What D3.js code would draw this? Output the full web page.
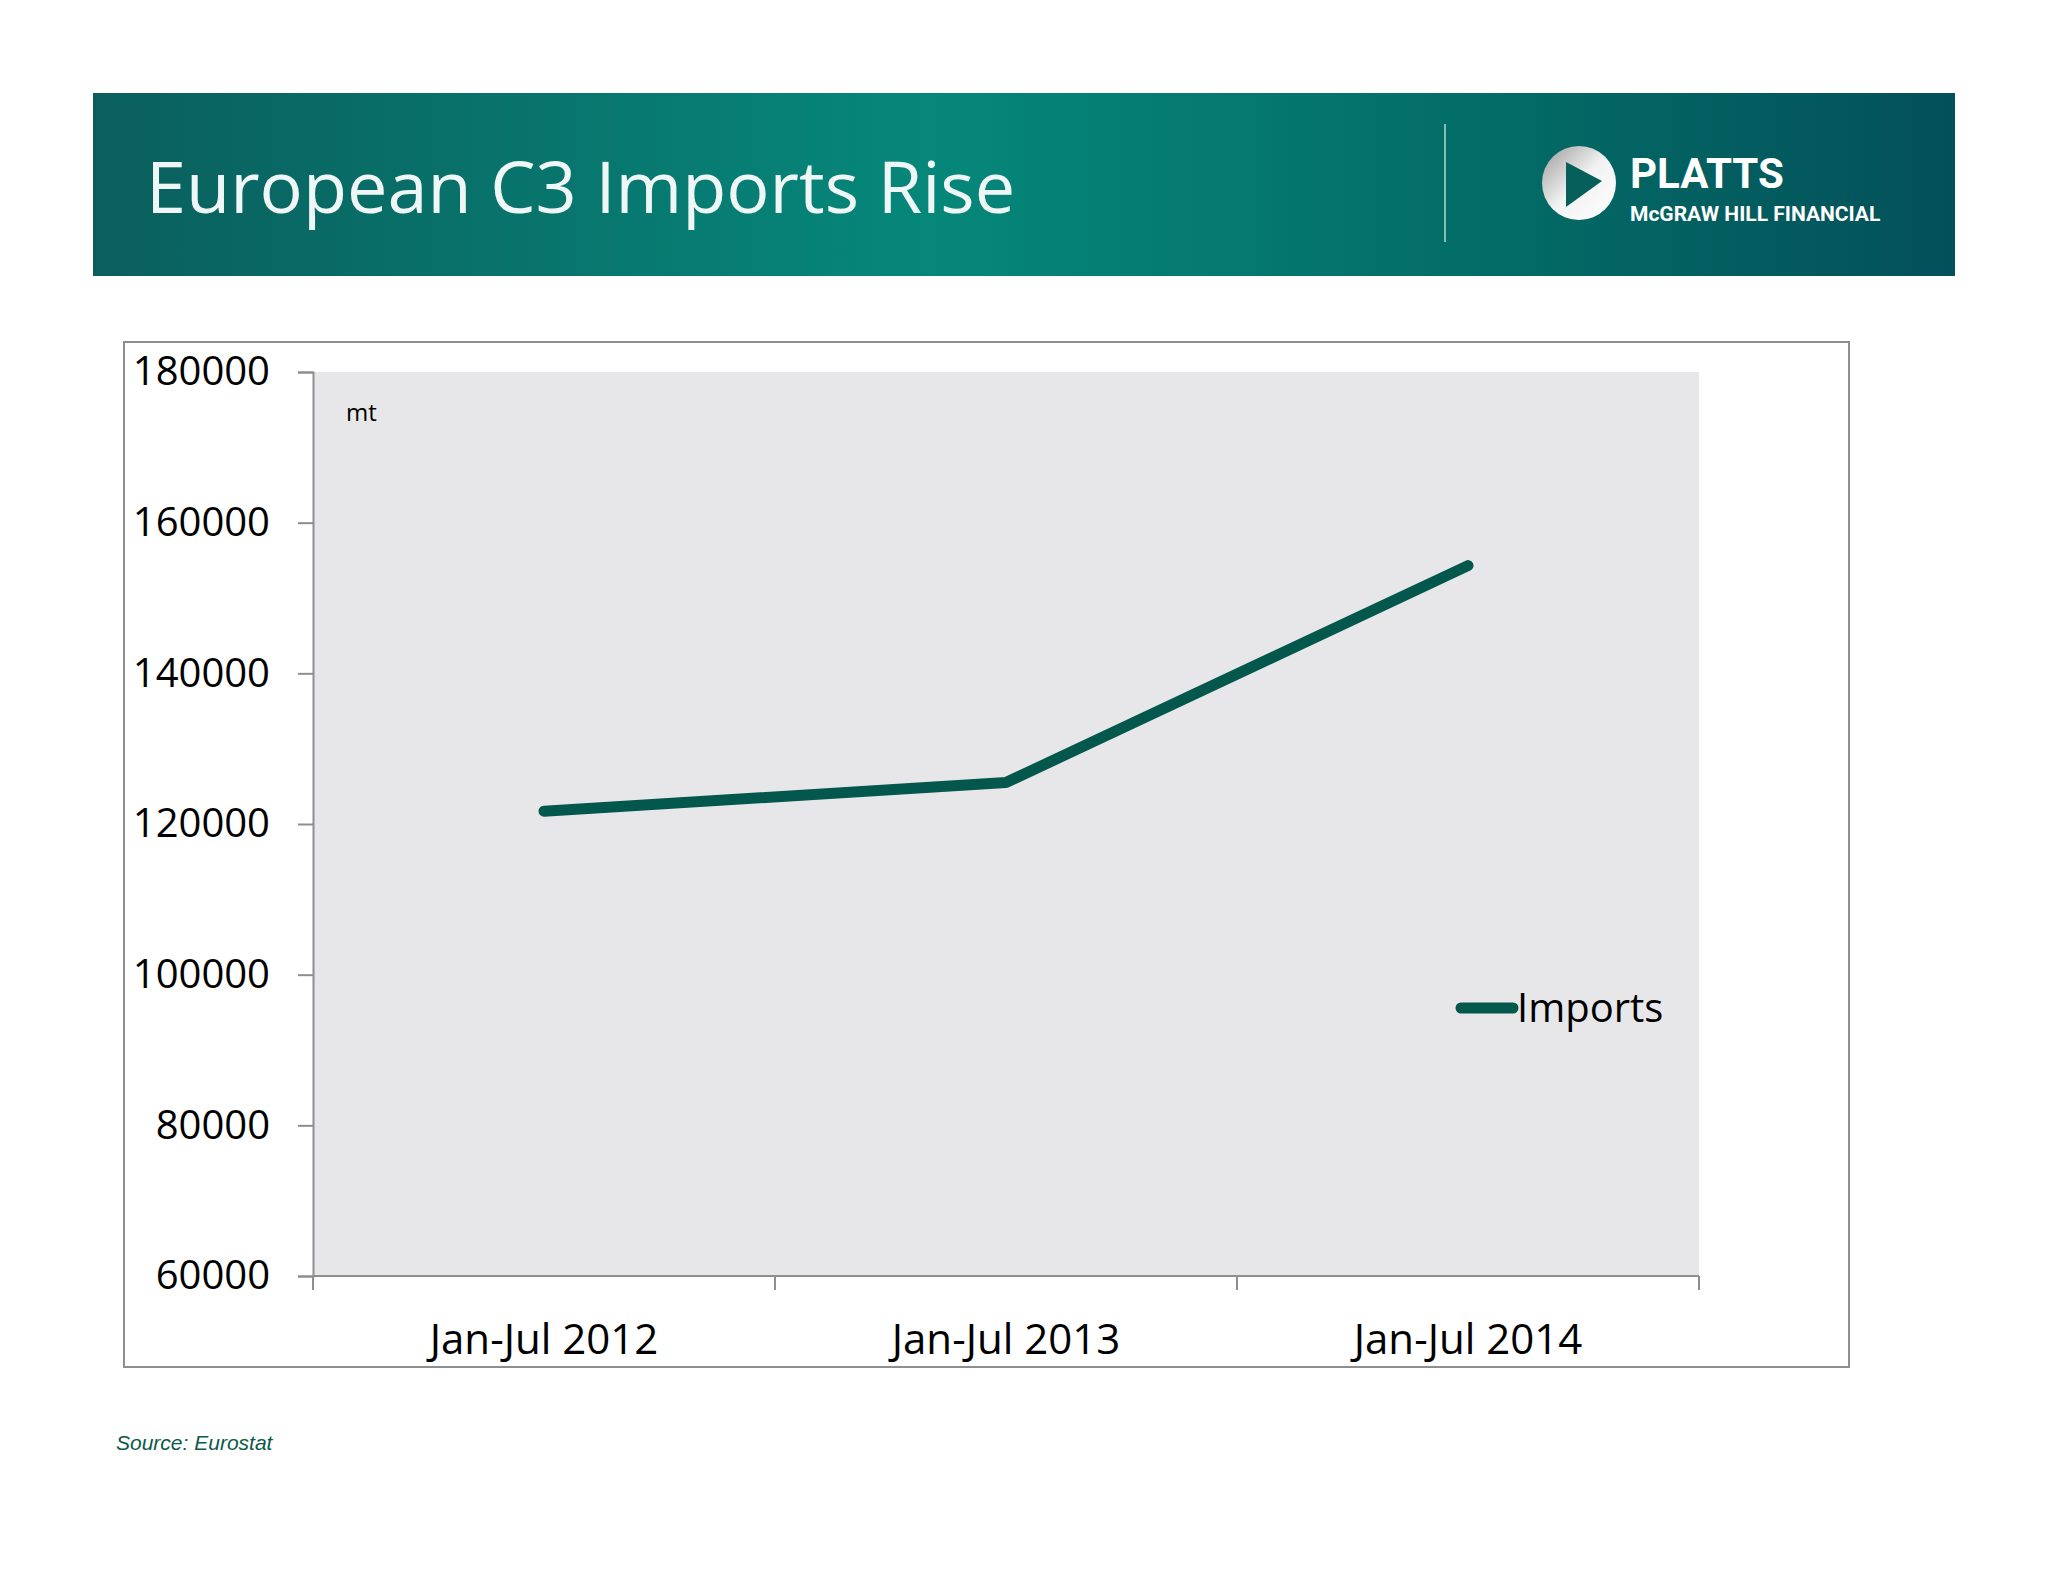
<!DOCTYPE html>
<html>
<head>
<meta charset="utf-8">
<script src="https://cdn.jsdelivr.net/npm/d3@7"></script>
<style>
  html, body { margin: 0; padding: 0; background: #ffffff; }
  svg { display: block; }
</style>
</head>
<body>
<div id="container"></div>
<script>
// chart values
const periods = ["Jan-Jul 2012", "Jan-Jul 2013", "Jan-Jul 2014"];
const imports = [121700, 125500, 154300];
const yTicks = [60000, 80000, 100000, 120000, 140000, 160000, 180000];
const seriesName = "Imports";
const unitLabel = "mt";
const title = "European C3 Imports Rise";
const source = "Source: Eurostat";

const width = 2048;
const height = 1582;
const lineColor = "#03574c";
const axisColor = "#8e8e8e";
const font = "'Open Sans', sans-serif";

// plot frame
const plot = { left: 313, top: 372, right: 1699, bottom: 1276 };

const svg = d3.select("#container")
  .append("svg")
  .attr("width", width)
  .attr("height", height);

// header band with gradient
const defs = svg.append("defs");
const grad = defs.append("linearGradient").attr("id", "band");
grad.append("stop").attr("offset", "0%").attr("stop-color", "#0a5f5d");
grad.append("stop").attr("offset", "45%").attr("stop-color", "#06877a");
grad.append("stop").attr("offset", "75%").attr("stop-color", "#036c66");
grad.append("stop").attr("offset", "100%").attr("stop-color", "#03505a");

const logoGrad = defs.append("linearGradient").attr("id", "logo")
  .attr("x1", "0%").attr("y1", "0%").attr("x2", "100%").attr("y2", "100%");
logoGrad.append("stop").attr("offset", "0%").attr("stop-color", "#9a9a9a");
logoGrad.append("stop").attr("offset", "50%").attr("stop-color", "#f2f2f2");
logoGrad.append("stop").attr("offset", "100%").attr("stop-color", "#ffffff");

svg.append("rect")
  .attr("x", 93).attr("y", 93)
  .attr("width", 1862).attr("height", 183)
  .attr("fill", "url(#band)");

svg.append("text")
  .attr("x", 146).attr("y", 213)
  .attr("font-family", font)
  .attr("font-size", 72)
  .attr("fill", "#eef7f5")
  .text(title);

svg.append("line")
  .attr("x1", 1445).attr("x2", 1445)
  .attr("y1", 124).attr("y2", 242)
  .attr("stroke", "#b8d8d2").attr("stroke-width", 1.5);

// logo
svg.append("circle")
  .attr("cx", 1579).attr("cy", 183).attr("r", 37)
  .attr("fill", "url(#logo)");
svg.append("path")
  .attr("d", "M1566,162 L1602,181 L1566,207 Z")
  .attr("fill", "#065f5a");

svg.append("text")
  .attr("x", 1630).attr("y", 188)
  .attr("font-family", "'Roboto', sans-serif")
  .attr("font-weight", 700)
  .attr("font-size", 42)
  .attr("fill", "#ffffff")
  .text("PLATTS");

svg.append("text")
  .attr("x", 1630).attr("y", 221)
  .attr("font-family", "'Roboto', sans-serif")
  .attr("font-weight", 700)
  .attr("font-size", 21)
  .attr("fill", "#ffffff")
  .text("McGRAW HILL FINANCIAL");

// chart border
svg.append("rect")
  .attr("x", 124).attr("y", 342)
  .attr("width", 1725).attr("height", 1025)
  .attr("fill", "#ffffff")
  .attr("stroke", axisColor)
  .attr("stroke-width", 2);

svg.append("rect")
  .attr("x", plot.left).attr("y", plot.top)
  .attr("width", plot.right - plot.left)
  .attr("height", plot.bottom - plot.top)
  .attr("fill", "#e7e7e9");

// scales
const x = d3.scaleBand()
  .domain(periods)
  .range([plot.left, plot.right])
  .paddingInner(0).paddingOuter(0);

const y = d3.scaleLinear()
  .domain([d3.min(yTicks), d3.max(yTicks)])
  .range([plot.bottom, plot.top]);

// y axis
const yAxis = svg.append("g")
  .attr("transform", `translate(${plot.left},0)`)
  .call(d3.axisLeft(y).tickValues(yTicks).tickSize(15).tickPadding(28).tickFormat(d3.format("d")));
yAxis.select(".domain").attr("stroke", axisColor).attr("stroke-width", 2);
yAxis.selectAll(".tick line").attr("stroke", axisColor).attr("stroke-width", 2);
yAxis.selectAll(".tick text")
  .attr("font-family", font)
  .attr("font-size", 40)
  .attr("fill", "#000000");

// x axis: labels at band centres, ticks on band edges
const xAxis = svg.append("g")
  .attr("transform", `translate(0,${plot.bottom})`)
  .call(d3.axisBottom(x).tickSize(0).tickPadding(48));
xAxis.select(".domain").remove();
xAxis.selectAll(".tick text")
  .attr("font-family", font)
  .attr("font-size", 42)
  .attr("fill", "#000000");

const edges = periods.map(p => x(p)).concat([x(periods[periods.length - 1]) + x.bandwidth()]);
svg.append("line")
  .attr("x1", plot.left).attr("x2", plot.right)
  .attr("y1", plot.bottom).attr("y2", plot.bottom)
  .attr("stroke", axisColor).attr("stroke-width", 2);
svg.selectAll(".xedge")
  .data(edges)
  .enter()
  .append("line")
  .attr("class", "xedge")
  .attr("x1", d => d).attr("x2", d => d)
  .attr("y1", plot.bottom).attr("y2", plot.bottom + 14)
  .attr("stroke", axisColor).attr("stroke-width", 2);

// unit label
svg.append("text")
  .attr("x", 346).attr("y", 421)
  .attr("font-family", font)
  .attr("font-size", 24)
  .attr("fill", "#000000")
  .text(unitLabel);

// series line
const line = d3.line()
  .x((d, i) => x(periods[i]) + x.bandwidth() / 2)
  .y(d => y(d));

svg.append("path")
  .datum(imports)
  .attr("d", line)
  .attr("fill", "none")
  .attr("stroke", lineColor)
  .attr("stroke-width", 11)
  .attr("stroke-linecap", "round")
  .attr("stroke-linejoin", "round");

// legend
svg.append("line")
  .attr("x1", 1461).attr("x2", 1513)
  .attr("y1", 1008).attr("y2", 1008)
  .attr("stroke", lineColor)
  .attr("stroke-width", 11)
  .attr("stroke-linecap", "round");
svg.append("text")
  .attr("x", 1517).attr("y", 1022)
  .attr("font-family", font)
  .attr("font-size", 40)
  .attr("fill", "#000000")
  .text(seriesName);

// source note
svg.append("text")
  .attr("x", 116).attr("y", 1450)
  .attr("font-family", "'Liberation Sans', Arial, sans-serif")
  .attr("font-style", "italic")
  .attr("font-size", 21)
  .attr("fill", "#0b5a4a")
  .text(source);
</script>
</body>
</html>
